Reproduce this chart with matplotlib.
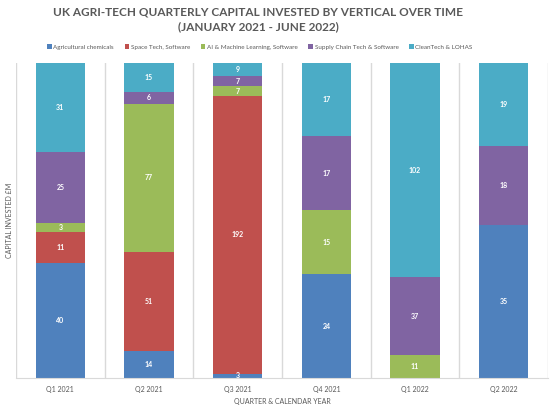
import numpy as np
from matplotlib import pyplot as plt

plt.rcParams['font.family'] = ['Lato', 'DejaVu Sans']

quarters = ['Q1 2021', 'Q2 2021', 'Q3 2021', 'Q4 2021', 'Q1 2022', 'Q2 2022']
verticals = ['Agricultural chemicals', 'Space Tech, Software', 'AI & Machine Learning, Software',
             'Supply Chain Tech & Software', 'CleanTech & LOHAS']

agri_chem = [40, 14, 3, 24, 0, 35]
space_tech = [11, 51, 192, 0, 0, 0]
ai_ml = [3, 77, 7, 15, 11, 0]
supply_chain = [25, 6, 7, 17, 37, 18]
cleantech = [31, 15, 9, 17, 102, 19]

colors = ['#4F81BD', '#C0504D', '#9BBB59', '#8064A2', '#4BACC6']

series = np.array([agri_chem, space_tech, ai_ml, supply_chain, cleantech], dtype=float)
totals = series.sum(axis=0)
shares = series / totals

fig = plt.figure(figsize=(5.59, 4.11), dpi=100)
ax = fig.add_axes([16 / 559, 1 - 378 / 411, 532 / 559, 315 / 411])

x = np.arange(len(quarters))
bottom = np.zeros(len(quarters))
for name, vals, share, col in zip(verticals, series, shares, colors):
    ax.bar(x, share, bottom=bottom, width=0.56, color=col, label=name)
    for xi, v, s, b in zip(x, vals, share, bottom):
        if v > 0:
            ax.text(xi, b + s / 2, str(int(v)), ha='center', va='center',
                    color='white', fontsize=5, fontweight='bold')
    bottom += share

ax.set_xlim(-0.5, len(quarters) - 0.5)
ax.set_ylim(0, 1)
ax.set_yticks([])
ax.set_xticks(x)
ax.set_xticklabels(quarters, fontsize=5, color='#595959')
ax.tick_params(axis='x', length=0, pad=6)
# light grid lines between the categories
for b in np.arange(-0.5, len(quarters), 1.0):
    ax.axvline(b, color='#D9D9D9', lw=1, zorder=0)
for s in ['top', 'left', 'right']:
    ax.spines[s].set_visible(False)
ax.spines['bottom'].set_color('#D9D9D9')

ax.set_xlabel('QUARTER & CALENDAR YEAR', fontsize=5, color='#595959', labelpad=3)
ax.set_ylabel('CAPITAL INVESTED £M', fontsize=5, color='#595959', labelpad=2)

fig.suptitle('UK AGRI-TECH QUARTERLY CAPITAL INVESTED BY VERTICAL OVER TIME\n(JANUARY 2021 - JUNE 2022)',
             x=0.462, fontsize=8.5, fontweight='bold', color='#595959', y=0.985, linespacing=1.45)

fig.legend(loc='center', bbox_to_anchor=(0.465, 1 - 47 / 411), ncol=5, fontsize=4.5,
           frameon=False, handlelength=0.7, handleheight=0.7, handletextpad=0.3,
           columnspacing=1.7, labelcolor='#595959')

fig.savefig('out.png', dpi=100)
